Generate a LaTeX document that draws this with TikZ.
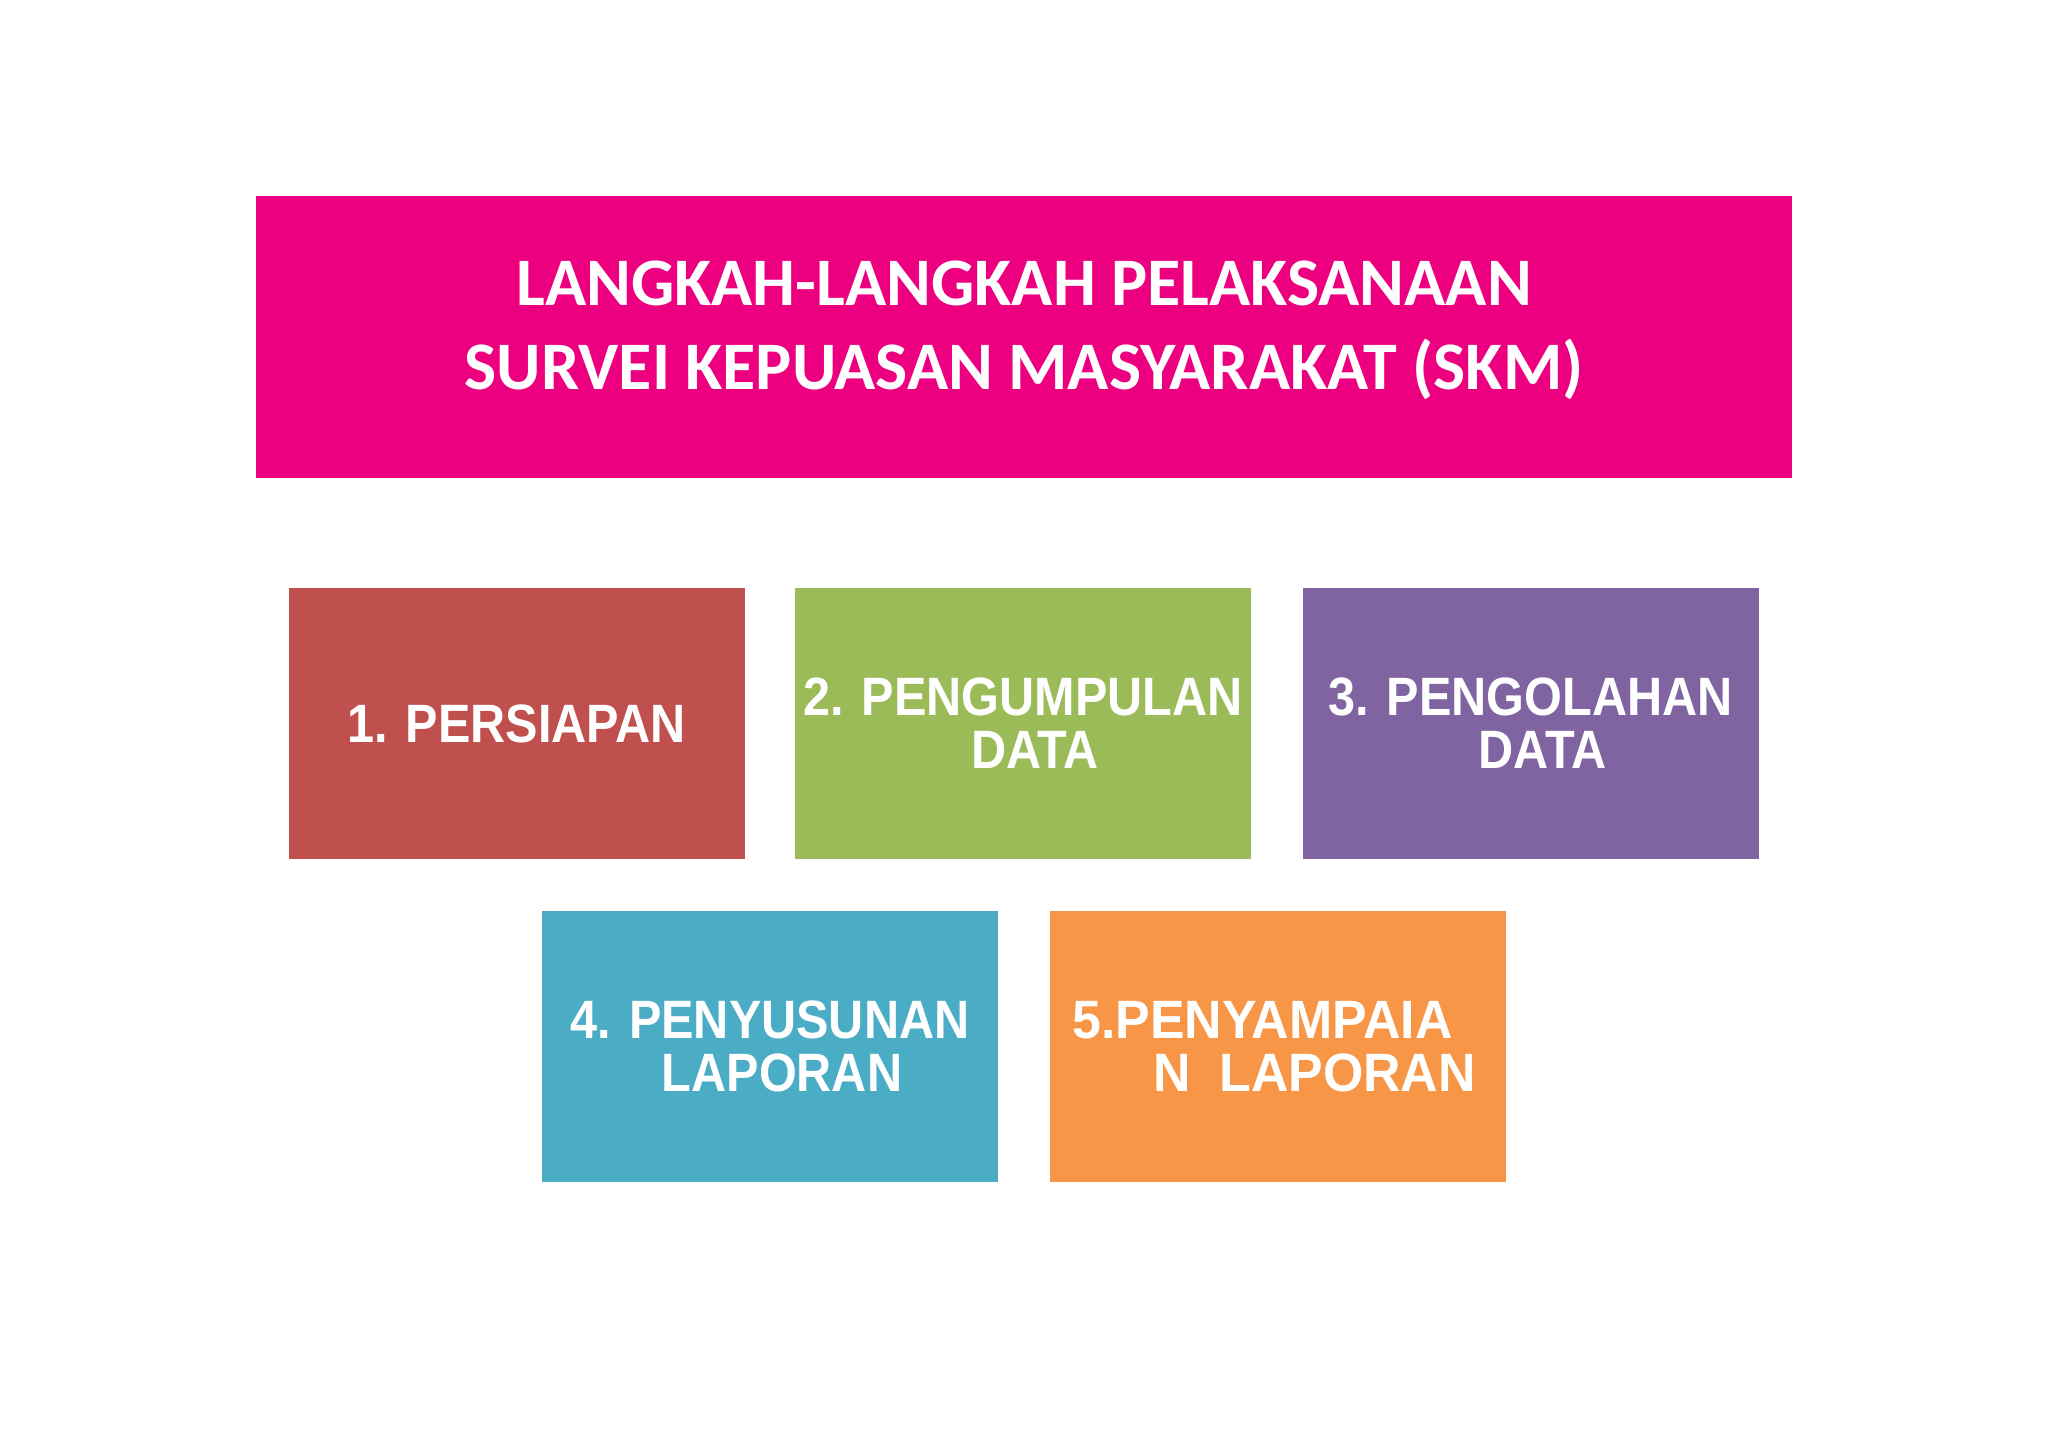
\documentclass[tikz,border=0pt]{standalone}
\usepackage{fontspec}
\newfontfamily\titlefont{Carlito}[BoldFont={* Bold}]
\newfontfamily\boxfont[FakeStretch=0.9]{Liberation Sans Bold}
\newfontfamily\boxfontb[FakeStretch=0.96]{Liberation Sans Bold}
\definecolor{titlemag}{RGB}{236,0,127}
\definecolor{cred}{RGB}{192,80,77}
\definecolor{cgreen}{RGB}{155,187,89}
\definecolor{cpurple}{RGB}{128,100,162}
\definecolor{cblue}{RGB}{75,172,198}
\definecolor{corange}{RGB}{247,150,70}
\begin{document}
\begin{tikzpicture}[x=1pt,y=-1pt,
  stepbox/.style={rectangle, draw=none, minimum width=456pt, minimum height=271pt, inner sep=0pt,
    text=white, align=center, font=\boxfont\fontsize{54}{53}\selectfont},
  titlebox/.style={rectangle, fill=titlemag, minimum width=1536pt, minimum height=282pt, inner sep=0pt},
  titletxt/.style={text=white, align=center, font=\titlefont\bfseries\fontsize{68}{84}\selectfont, inner sep=0pt}]
\useasboundingbox[fill=white] (0,0) rectangle (2048,1448);
\node[titlebox] (title) at (1024,337) {};
\node[titletxt] (titletext) at (1024,330) {LANGKAH-LANGKAH PELAKSANAAN\\SURVEI KEPUASAN MASYARAKAT (SKM)};
\node[stepbox, fill=cred] (s1) at (516.5,723.5) {1. PERSIAPAN};
\node[stepbox, fill=cgreen] (s2) at (1023,723.5) {2. PENGUMPULAN\\\hspace*{24pt}DATA};
\node[stepbox, fill=cpurple] (s3) at (1530.5,723.5) {3. PENGOLAHAN\\\hspace*{24pt}DATA};
\node[stepbox, fill=cblue] (s4) at (770,1046) {4. PENYUSUNAN\\\hspace*{24pt}LAPORAN};
\node[stepbox, fill=corange] (s5) at (1277.5,1046) {};
\node[text=white, align=left, inner sep=0pt, anchor=west, font=\boxfontb\fontsize{54}{53}\selectfont] (s5text) at (1072,1047) {5.PENYAMPAIA\\\hspace*{81pt}N\ \ LAPORAN};
\end{tikzpicture}
\end{document}
